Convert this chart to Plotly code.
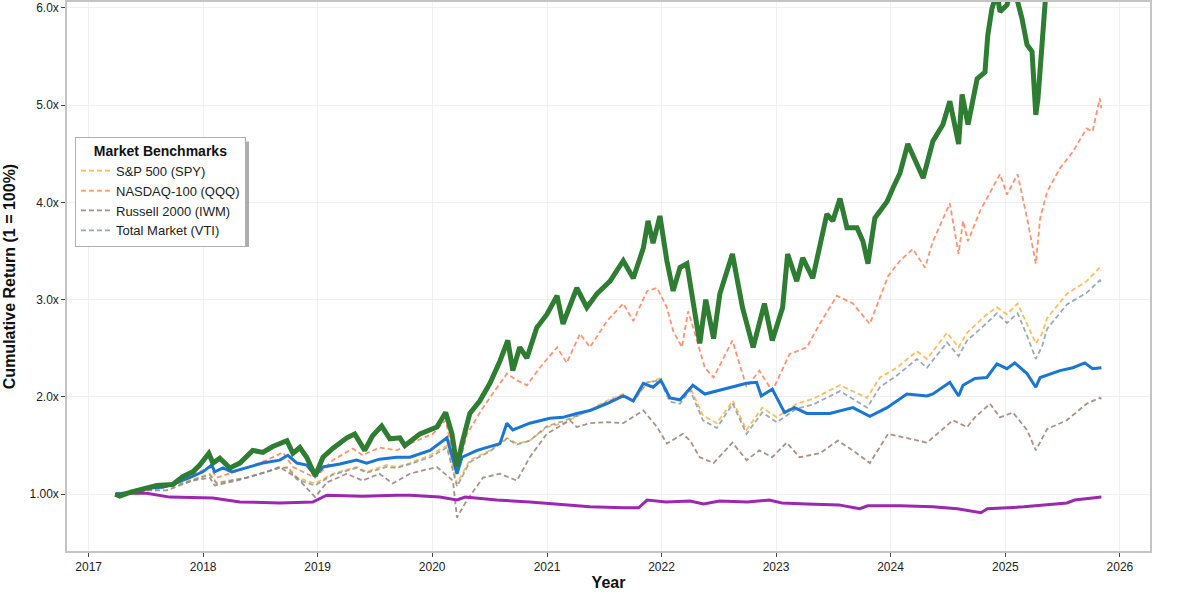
import plotly.graph_objects as go

# ---------------- data ----------------
green_dates = ["2017-03-27","2017-04-10","2017-05-15","2017-07-05","2017-08-06","2017-09-26","2017-10-28","2017-11-29","2017-12-21",
"2018-01-19","2018-02-01","2018-02-23","2018-03-27","2018-04-28","2018-06-08","2018-07-10","2018-08-11","2018-09-25","2018-10-14",
"2018-11-05","2018-11-27","2018-12-24","2019-01-18","2019-02-18","2019-04-04","2019-04-29","2019-05-31","2019-06-25","2019-07-24",
"2019-08-19","2019-09-20","2019-10-06","2019-11-23","2020-01-16","2020-02-13","2020-03-04","2020-03-20","2020-04-05","2020-04-30",
"2020-06-01","2020-07-03","2020-08-04","2020-08-29","2020-09-14","2020-10-06","2020-10-29","2020-11-29","2021-01-01","2021-02-02",
"2021-02-21","2021-04-06","2021-05-08","2021-06-09","2021-07-21","2021-09-01","2021-10-03","2021-11-04","2021-11-19","2021-12-05",
"2021-12-27","2022-01-18","2022-02-07","2022-03-01","2022-03-23","2022-05-03","2022-05-22","2022-06-16","2022-07-06","2022-08-15",
"2022-09-16","2022-10-20","2022-11-25","2022-12-20","2023-01-22","2023-02-07","2023-03-08","2023-03-27","2023-04-28","2023-05-20",
"2023-06-12","2023-07-01","2023-07-24","2023-08-15","2023-09-16","2023-10-05","2023-10-21","2023-11-12","2023-12-21","2024-01-09",
"2024-01-31","2024-02-25","2024-04-14","2024-05-15","2024-06-16","2024-07-08","2024-08-05","2024-08-16","2024-09-04","2024-10-03",
"2024-10-28","2024-11-06","2024-11-19","2024-12-05","2024-12-15","2025-01-06","2025-01-25","2025-02-23","2025-03-11","2025-03-27",
"2025-04-08","2025-04-15","2025-04-28","2025-05-08","2025-06-15","2025-08-01","2025-09-15","2025-11-03"]
green_vals = [1.00,0.98,1.02,1.07,1.09,1.10,1.18,1.23,1.30,
1.42,1.32,1.37,1.27,1.32,1.45,1.43,1.49,1.55,1.42,
1.48,1.38,1.19,1.38,1.47,1.58,1.62,1.45,1.60,1.70,
1.57,1.58,1.50,1.62,1.69,1.84,1.62,1.28,1.52,1.83,
1.96,2.14,2.37,2.58,2.27,2.51,2.40,2.71,2.85,3.04,
2.75,3.12,2.92,3.06,3.19,3.40,3.22,3.53,3.81,3.58,
3.86,3.40,3.09,3.33,3.37,2.55,3.00,2.60,3.06,3.47,
2.92,2.51,2.96,2.58,2.92,3.47,3.19,3.43,3.22,3.53,
3.88,3.81,4.04,3.74,3.74,3.60,3.37,3.84,4.01,4.15,
4.30,4.60,4.25,4.63,4.80,5.04,4.60,5.11,4.80,5.27,
5.34,5.72,5.99,6.15,5.96,6.03,6.25,5.89,5.62,5.55,
4.90,5.07,5.65,6.06,6.50,6.90,7.20,7.50]

blue_dates = ["2017-03-27","2017-05-12","2017-07-05","2017-08-25","2017-10-09","2017-11-19","2017-12-31","2018-01-28","2018-02-07",
"2018-03-05","2018-04-02","2018-05-20","2018-07-10","2018-09-02","2018-09-28","2018-10-27","2018-11-27","2018-12-24","2019-01-18",
"2019-03-13","2019-05-05","2019-06-06","2019-07-17","2019-09-10","2019-10-22","2019-12-25","2020-02-17","2020-03-20","2020-04-05",
"2020-05-23","2020-08-04","2020-08-26","2020-09-14","2020-11-07","2021-01-10","2021-02-21","2021-04-06","2021-05-18","2021-07-11",
"2021-09-01","2021-10-03","2021-11-04","2021-12-05","2021-12-30","2022-01-28","2022-03-01","2022-04-11","2022-05-19","2022-07-16",
"2022-09-29","2022-10-31","2022-11-15","2022-12-20","2023-01-28","2023-03-01","2023-04-09","2023-06-21","2023-09-03","2023-10-27",
"2023-12-21","2024-02-22","2024-04-26","2024-05-15","2024-07-08","2024-08-05","2024-08-19","2024-09-26","2024-11-03","2024-12-05",
"2025-01-06","2025-01-31","2025-03-11","2025-04-08","2025-04-22","2025-06-24","2025-08-04","2025-09-11","2025-10-06","2025-11-03"]
blue_vals = [1.00,1.02,1.06,1.07,1.12,1.17,1.23,1.30,1.23,
1.27,1.23,1.27,1.32,1.35,1.40,1.32,1.30,1.19,1.28,
1.31,1.35,1.32,1.36,1.38,1.38,1.45,1.58,1.21,1.38,
1.45,1.52,1.73,1.66,1.73,1.78,1.79,1.83,1.86,1.93,
2.01,1.96,2.14,2.10,2.17,1.99,1.97,2.12,2.03,2.08,
2.14,2.15,2.01,2.08,1.84,1.89,1.83,1.83,1.89,1.80,
1.89,2.03,2.01,2.03,2.15,2.01,2.12,2.19,2.20,2.34,
2.29,2.35,2.24,2.10,2.20,2.27,2.30,2.35,2.29,2.30]

purple_dates = ["2017-03-27","2017-05-12","2017-07-05","2017-09-16","2018-02-01","2018-04-28","2018-09-02","2018-12-16","2019-01-30",
"2019-05-24","2019-09-10","2019-10-22","2020-01-25","2020-03-20","2020-04-15","2020-07-25","2020-11-07","2021-02-01","2021-05-18",
"2021-09-01","2021-10-20","2021-11-16","2022-01-15","2022-04-02","2022-05-15","2022-07-05","2022-10-01","2022-12-10","2023-01-20",
"2023-04-09","2023-07-20","2023-09-25","2023-10-20","2024-02-01","2024-05-15","2024-08-01","2024-09-26","2024-10-15","2024-11-05",
"2025-03-01","2025-05-04","2025-07-16","2025-08-10","2025-11-03"]
purple_vals = [1.00,1.01,1.01,0.97,0.96,0.92,0.91,0.92,0.99,
0.98,0.99,0.99,0.97,0.94,0.97,0.94,0.92,0.90,0.87,
0.86,0.86,0.94,0.92,0.93,0.90,0.93,0.92,0.94,0.91,
0.90,0.89,0.85,0.88,0.88,0.87,0.85,0.82,0.81,0.85,
0.87,0.89,0.91,0.94,0.97]

qqq_dates = ["2017-03-27","2017-07-05","2017-10-19","2018-01-22","2018-02-13","2018-05-20","2018-07-23","2018-09-12","2018-10-14",
"2018-12-24","2019-02-18","2019-04-23","2019-05-24","2019-07-17","2019-09-10","2019-10-22","2020-01-03","2020-02-13","2020-03-20",
"2020-04-21","2020-06-11","2020-07-25","2020-08-26","2020-09-27","2020-10-29","2020-12-09","2021-02-02","2021-03-05","2021-04-16",
"2021-05-18","2021-07-11","2021-09-01","2021-10-03","2021-11-16","2021-12-18","2022-01-18","2022-02-07","2022-03-07","2022-03-27",
"2022-04-24","2022-05-19","2022-06-16","2022-08-15","2022-09-29","2022-11-09","2022-12-20","2023-02-13","2023-04-09","2023-05-20",
"2023-07-14","2023-09-03","2023-10-27","2023-12-24","2024-01-31","2024-03-12","2024-04-20","2024-05-15","2024-07-08","2024-08-05",
"2024-08-19","2024-09-04","2024-10-12","2024-12-15","2025-01-06","2025-02-09","2025-03-11","2025-04-08","2025-04-22","2025-05-14",
"2025-06-24","2025-08-04","2025-09-17","2025-10-06","2025-10-29","2025-11-03"]
qqq_vals = [1.00,1.04,1.14,1.28,1.17,1.27,1.35,1.43,1.28,
1.17,1.35,1.47,1.40,1.48,1.45,1.52,1.62,1.76,1.21,
1.62,1.89,2.10,2.24,2.17,2.12,2.30,2.51,2.35,2.65,
2.51,2.78,2.96,2.78,3.09,3.12,2.92,2.68,2.51,2.88,
2.58,2.30,2.20,2.58,2.10,2.27,2.06,2.44,2.51,2.75,
3.04,2.96,2.75,3.24,3.40,3.52,3.33,3.60,3.99,3.47,
3.81,3.60,3.91,4.29,4.08,4.29,3.84,3.37,3.84,4.11,
4.35,4.52,4.76,4.73,5.07,4.97]

bench_dates = ["2017-03-27","2017-07-05","2017-10-19","2018-01-22","2018-02-13","2018-05-20","2018-09-02","2018-09-28","2018-10-27",
"2018-12-24","2019-02-18","2019-05-05","2019-06-06","2019-08-09","2019-09-10","2019-10-22","2019-12-25","2020-02-17","2020-03-20",
"2020-04-30","2020-07-03","2020-08-26","2020-09-27","2020-11-07","2021-01-01","2021-02-21","2021-04-25","2021-07-11","2021-09-01",
"2021-10-03","2021-11-16","2021-12-27","2022-01-28","2022-03-01","2022-04-02","2022-05-13","2022-06-26","2022-08-16","2022-09-29",
"2022-11-18","2023-01-03","2023-03-08","2023-04-28","2023-07-24","2023-10-18","2023-11-28","2024-01-21","2024-03-25","2024-04-26",
"2024-06-29","2024-08-05","2024-09-01","2024-11-03","2024-12-05","2025-01-06","2025-02-09","2025-03-11","2025-04-08","2025-04-28",
"2025-05-14","2025-07-16","2025-09-17","2025-10-29","2025-11-03"]
spy_vals = [1.00,1.04,1.11,1.21,1.12,1.17,1.27,1.28,1.17,
1.11,1.21,1.28,1.23,1.30,1.28,1.32,1.40,1.50,1.11,
1.35,1.45,1.58,1.52,1.55,1.69,1.73,1.83,1.96,2.03,
1.96,2.14,2.19,1.99,1.96,2.10,1.81,1.73,1.96,1.66,
1.89,1.79,1.93,1.98,2.12,1.99,2.20,2.30,2.47,2.39,
2.66,2.51,2.66,2.85,2.92,2.85,2.96,2.75,2.55,2.65,
2.81,3.06,3.19,3.33,3.30]
vti_vals = [1.00,1.04,1.10,1.20,1.11,1.17,1.27,1.27,1.15,
1.09,1.20,1.27,1.22,1.28,1.27,1.31,1.38,1.48,1.08,
1.33,1.44,1.57,1.51,1.55,1.70,1.75,1.83,1.95,2.02,
1.95,2.15,2.17,1.95,1.93,2.07,1.76,1.68,1.93,1.62,
1.84,1.74,1.88,1.92,2.06,1.89,2.10,2.22,2.39,2.30,
2.56,2.42,2.58,2.76,2.86,2.76,2.86,2.63,2.39,2.52,
2.70,2.95,3.07,3.20,3.17]

iwm_dates = ["2017-03-27","2017-07-05","2017-09-07","2017-11-29","2018-01-22","2018-02-07","2018-04-18","2018-07-23","2018-08-31",
"2018-10-27","2018-12-24","2019-01-30","2019-04-04","2019-05-24","2019-07-17","2019-08-28","2019-10-22","2020-01-16","2020-03-07",
"2020-03-20","2020-04-21","2020-06-11","2020-08-04","2020-09-27","2020-11-07","2020-12-31","2021-03-15","2021-04-06","2021-05-18",
"2021-07-11","2021-09-01","2021-11-04","2021-12-18","2022-01-18","2022-03-10","2022-04-02","2022-05-03","2022-06-16","2022-08-15",
"2022-09-29","2022-11-09","2022-12-20","2023-02-04","2023-03-17","2023-05-20","2023-07-17","2023-09-03","2023-10-27","2023-12-24",
"2024-02-22","2024-04-26","2024-07-18","2024-09-01","2024-09-26","2024-11-13","2024-12-15","2025-01-25","2025-03-11","2025-04-08",
"2025-05-14","2025-07-16","2025-09-17","2025-10-29","2025-11-03"]
iwm_vals = [1.00,1.04,1.04,1.14,1.17,1.09,1.14,1.23,1.28,
1.17,0.97,1.12,1.21,1.14,1.21,1.11,1.21,1.28,1.14,
0.76,0.94,1.17,1.21,1.14,1.38,1.62,1.76,1.69,1.73,
1.74,1.73,1.86,1.69,1.52,1.62,1.55,1.38,1.32,1.53,
1.35,1.45,1.38,1.53,1.38,1.42,1.55,1.45,1.32,1.62,
1.58,1.53,1.76,1.69,1.79,1.93,1.79,1.84,1.66,1.45,
1.67,1.76,1.93,1.99,1.98]

bench_names = ["S&P 500 (SPY)", "NASDAQ-100 (QQQ)", "Russell 2000 (IWM)", "Total Market (VTI)"]
y_tickvals = [1, 2, 3, 4, 5, 6]
y_ticktext = ["1.00x", "2.0x", "3.0x", "4.0x", "5.0x", "6.0x"]

# ---------------- figure ----------------
FONT = "Liberation Sans, Arial, sans-serif"
W, H = 1200, 600
ML, MR, MT, MB = 67, 50, 0, 49
PW, PH = W - ML - MR, H - MT - MB

fig = go.Figure()
dash = "5px,3px"
bench = [
    (bench_dates, spy_vals, "#ffa726"),
    (qqq_dates, qqq_vals, "#ff7043"),
    (iwm_dates, iwm_vals, "#8d6e63"),
    (bench_dates, vti_vals, "#78909c"),
]
for (d, v, c), n in zip(bench, bench_names):
    fig.add_trace(go.Scatter(x=d, y=v, mode="lines", name=n, opacity=0.75,
                             line=dict(color=c, width=1.8, dash=dash)))

fig.add_trace(go.Scatter(x=purple_dates, y=purple_vals, mode="lines", showlegend=False,
                         line=dict(color="#9c27b0", width=3)))
fig.add_trace(go.Scatter(x=blue_dates, y=blue_vals, mode="lines", showlegend=False,
                         line=dict(color="#1976d2", width=3)))
fig.add_trace(go.Scatter(x=green_dates, y=green_vals, mode="lines", showlegend=False,
                         line=dict(color="#2e7d32", width=5)))

def px_x(p):
    return (p - ML) / PW

def px_y(p):
    return 1 - (p - MT) / PH

# legend drop shadow
fig.add_shape(type="rect", xref="paper", yref="paper", layer="above",
              x0=px_x(79), x1=px_x(249), y0=px_y(246), y1=px_y(140),
              fillcolor="rgba(120,120,120,0.6)", line=dict(width=0))

fig.update_layout(
    width=W, height=H,
    margin=dict(l=ML, r=MR, t=MT, b=MB),
    paper_bgcolor="white", plot_bgcolor="white",
    font=dict(family=FONT, size=12, color="#222"),
    showlegend=True,
    legend=dict(
        title=dict(text="<b>Market Benchmarks</b>", font=dict(size=14, color="#111"), side="top center"),
        x=px_x(75), y=px_y(135), xanchor="left", yanchor="top",
        bgcolor="white", bordercolor="#b0b0b0", borderwidth=1,
        font=dict(size=13, color="#222"), itemwidth=30, tracegroupgap=0,
    ),
    xaxis=dict(
        type="date", range=["2016-10-24", "2026-04-07"],
        tick0="2017-01-01", dtick="M12", tickformat="%Y",
        showgrid=True, gridcolor="#f0f0f0", gridwidth=1,
        showline=True, linecolor="#c4c4c4", linewidth=1.5, mirror=True,
        ticks="outside", ticklen=4, tickcolor="#444",
        tickfont=dict(size=12, color="#222"),
        title=dict(text="<b>Year</b>", font=dict(size=16, color="#111"), standoff=4),
        zeroline=False,
    ),
    yaxis=dict(
        range=[0.416, 6.06],
        tickvals=y_tickvals, ticktext=y_ticktext,
        showgrid=True, gridcolor="#f0f0f0", gridwidth=1,
        showline=True, linecolor="#c4c4c4", linewidth=1.5, mirror=True,
        ticks="outside", ticklen=4, tickcolor="#444",
        tickfont=dict(size=12, color="#222"),
        title=dict(text="<b>Cumulative Return (1 = 100%)</b>", font=dict(size=16, color="#111"), standoff=10),
        zeroline=False,
    ),
)

fig.write_html("out.html", config={"displayModeBar": False},
               post_script="document.body.style.margin='0';document.body.style.overflow='hidden';")
